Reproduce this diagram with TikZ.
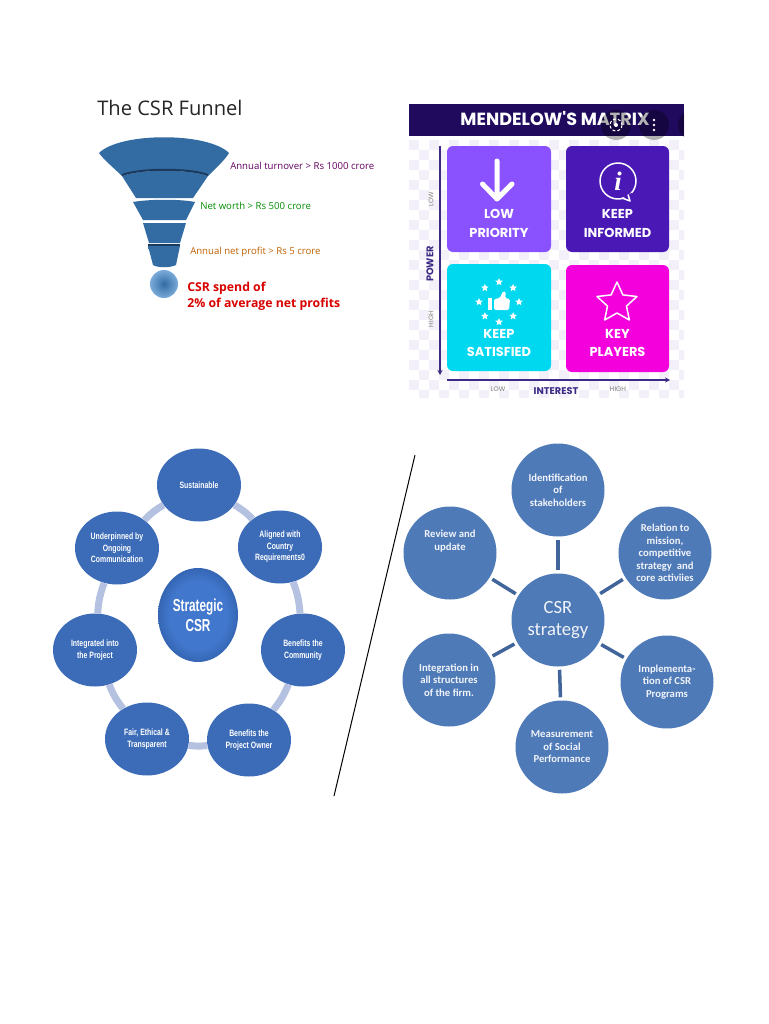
\documentclass[tikz,border=0pt]{standalone}
\usepackage{fontspec}
\setmainfont{Liberation Sans}
\newfontfamily\titlefont{Open Sans}
\newfontfamily\popfont{Poppins}
\newfontfamily\condfont[FakeStretch=0.75]{Liberation Sans}
\newfontfamily\condbig[FakeStretch=0.68]{Liberation Sans}
\newfontfamily\calfont{Carlito}
\newfontfamily\serifi{Liberation Serif}
\usetikzlibrary{shapes.geometric,arrows.meta}
\def\px{0.75pt}
\definecolor{navy}{HTML}{1F0A5E}
\definecolor{axiscol}{HTML}{3D2A85}
\definecolor{chk}{HTML}{F3F0F9}
\definecolor{tileA}{HTML}{8A52FF}
\definecolor{tileB}{HTML}{4A18B4}
\definecolor{tileC}{HTML}{00D8F0}
\definecolor{tileD}{HTML}{F400DC}
\definecolor{leftblue}{HTML}{3C6CB8}
\definecolor{ringcol}{HTML}{B4C1E0}
\definecolor{rightblue}{HTML}{4F7AB8}
\definecolor{spokecol}{HTML}{41659B}
\definecolor{fundark}{HTML}{336CA3}
\definecolor{funlight}{HTML}{7AABDB}
\definecolor{seamcol}{HTML}{1C3A5E}
\definecolor{stratA}{HTML}{4177CC}
\definecolor{stratB}{HTML}{3566B4}
\definecolor{stratC}{HTML}{1E4A86}
\pgfdeclareradialshading{stratball}{\pgfpointorigin}{color(0bp)=(stratA); color(18bp)=(stratA); color(25bp)=(stratB); color(32bp)=(stratC); color(50bp)=(stratC)}
\tikzset{
  band/.style={left color=fundark,middle color=funlight,right color=fundark},
  seam/.style={draw=seamcol,line width=2*\px},
  tile/.style={rounded corners=6*\px},
  tiletext/.style={text=white,font=\popfont\bfseries\fontsize{9.7}{14}\selectfont,align=center,inner sep=0},
  axislab/.style={text=axiscol,font=\popfont\bfseries\fontsize{7.3}{8}\selectfont,inner sep=0},
  scalelab/.style={text=gray,font=\popfont\fontsize{5}{6}\selectfont,inner sep=0},
  axisline/.style={draw=axiscol,line width=1.2*\px,-{Stealth[length=5*\px,width=5*\px]}},
  icon/.style={draw=white,line width=1.5*\px,line join=round},
  tinystar/.style={star,star points=5,star point ratio=2.2,fill=white,inner sep=0,minimum size=8*\px},
  button/.style={circle,fill=black,fill opacity=.3,minimum size=30*\px,inner sep=0},
  leftnode/.style={ellipse,fill=leftblue,minimum width=84*\px,minimum height=73*\px,inner sep=0,align=center,text=white,font=\condfont\bfseries\fontsize{6.9}{8.6}\selectfont},
  ring/.style={draw=ringcol,line width=7*\px},
  rightnode/.style={circle,fill=rightblue,minimum size=93*\px,inner sep=0,align=center,text=white!92!rightblue,font=\calfont\bfseries\fontsize{8}{9.4}\selectfont},
  spoke/.style={draw=spokecol,line width=3.5*\px,shorten <=3*\px,shorten >=3*\px},
  funlabel/.style={anchor=west,inner sep=0,font=\titlefont\fontsize{7.2}{8}\selectfont},
}
\begin{document}
\begin{tikzpicture}[x=0.75pt,y=-0.75pt]
\useasboundingbox (0,0) rectangle (768,1024);
\fill[white] (0,0) rectangle (768,1024);

% ---------- funnel ----------
\node[anchor=west,inner sep=0,font=\titlefont\fontsize{15.1}{17}\selectfont,text=black!85] (funneltitle) at (97,108) {The CSR Funnel};
\shade[band] (99,153) .. controls (120,132) and (208,132) .. (229,153) .. controls (225,160) and (214,170) .. (208,176) .. controls (190,169) and (140,169) .. (122,176) .. controls (116,170) and (104,160) .. (99,153) -- cycle;
\shade[band] (122,176) .. controls (140,169) and (190,169) .. (208,176) -- (193,198) -- (136,198) -- cycle;
\draw[seam] (122,175) .. controls (140,168) and (190,168) .. (208,175);
\shade[band] (133,202) .. controls (150,199) and (180,199) .. (195,202) -- (186,220) -- (143,220) -- cycle;
\shade[band] (143,223) -- (186,223) -- (180,243) -- (149,243) -- cycle;
\shade[band] (148,246) -- (180,246) -- (176,265) .. controls (170,268) and (158,268) .. (153,265) -- cycle;
\draw[seam] (148,244.5) -- (180,244.5);
\shade[inner color=fundark,outer color=funlight] (164,284) circle (14);
\node[funlabel,text=violet!75!black] (turnover) at (230,166) {Annual turnover > Rs 1000 crore};
\node[funlabel,text=green!55!black] (worth) at (200,205.5) {Net worth > Rs 500 crore};
\node[funlabel,text=orange!75!black] (profit) at (190,252) {Annual net profit > Rs 5 crore};
\node[anchor=west,inner sep=0,align=left,text=red!85!black,font=\titlefont\bfseries\fontsize{9.2}{12}\selectfont] (spend) at (187,296) {CSR spend of\\2\% of average net profits};

% ---------- Mendelow's matrix ----------
\begin{scope}
\clip (409,104) rectangle (684,397);
\foreach \cx in {409,429,...,684} \foreach \cy in {140,160,...,390} {
  \fill[chk] (\cx,\cy) rectangle ++(10,10);
  \fill[chk] (\cx+10,\cy+10) rectangle ++(10,10);
}
\fill[navy] (409,104) rectangle (684,136);
\node[text=white,font=\popfont\bfseries\fontsize{13.2}{15}\selectfont,inner sep=0] (mtitle) at (555,119) {MENDELOW'S MATRIX};
\node[button] (btnA) at (616,125) {};
\node[button] (btnB) at (654,125) {};
\node[button] (btnC) at (693,125) {};
\end{scope}
\draw[white,line width=1*\px,dash pattern=on 3*\px off 2*\px] (btnA) circle (6);
\fill[white] (btnA) circle (2);
\foreach \dy in {-5,0,5} \fill[white] (654,125+\dy) circle (1.4);

\fill[tileA,tile] (447,146) rectangle (551,252);
\fill[tileB,tile] (566,146) rectangle (669,252);
\fill[tileC,tile] (447,264) rectangle (551,371);
\fill[tileD,tile] (566,265) rectangle (669,372);
\node[tiletext] (lowp) at (499,223.5) {LOW\\PRIORITY};
\node[tiletext] (keepi) at (617.5,223.5) {KEEP\\INFORMED};
\node[tiletext] (keeps) at (499,343) {KEEP\\SATISFIED};
\node[tiletext] (keyp) at (617.5,343) {KEY\\PLAYERS};

% arrow icon
\draw[white,line width=5*\px,line join=round,line cap=round] (497,161) -- (497,199) (482.5,184) -- (497,199) -- (512,184);
% info icon
\draw[icon] (618,181) circle (18);
\fill[tileB] (622,196) -- (632,193) -- (630,201) -- cycle;
\draw[icon] (622,198) -- (630,201) -- (628,194.5);
\node[text=white,inner sep=0,font=\serifi\bfseries\itshape\fontsize{20}{20}\selectfont] (infoi) at (618,181) {i};
% thumb icon
\foreach \a [count=\n] in {0,45,...,315} \node[tinystar] (star\n) at ({499+20*cos(\a)},{302+20*sin(\a)}) {};
\fill[white] (488,298) rectangle (492,310);
\fill[white,rounded corners=1.5*\px] (494,299) -- (500,298) -- (503,291) -- (506,292) -- (505,298) -- (510,299) -- (509,310) -- (494,310) -- cycle;
% star icon
\node[star,star points=5,star point ratio=2.1,draw=white,line width=1.5*\px,line join=round,inner sep=0,minimum size=42*\px] (bigstar) at (617,303) {};

% axes
\coordinate (vtop) at (440,146); \coordinate (vbot) at (440,375);
\coordinate (hleft) at (447,380); \coordinate (hright) at (670,380);
\draw[axisline] (vtop) -- (vbot);
\draw[axisline] (hleft) -- (hright);
\node[axislab,rotate=90] (power) at (430,264) {POWER};
\node[scalelab,rotate=90] (plow) at (431,199) {LOW};
\node[scalelab,rotate=90] (phigh) at (431,319) {HIGH};
\node[scalelab] (ilow) at (498,389) {LOW};
\node[axislab] (interest) at (556,391) {INTEREST};
\node[scalelab] (ihigh) at (618,389) {HIGH};

% ---------- Strategic CSR ----------
\node[leftnode] (sust) at (199,485) {Sustainable};
\node[leftnode] (align) at (280,547) {Aligned with\\Country\\Requirements0};
\node[leftnode] (comm) at (303,650) {Benefits the\\Community};
\node[leftnode] (owner) at (249,740) {Benefits the\\Project Owner};
\node[leftnode] (fair) at (147,739) {Fair, Ethical \&\\Transparent};
\node[leftnode] (integ) at (95,650) {Integrated into\\the Project};
\node[leftnode] (under) at (117,548) {Underpinned by\\Ongoing\\Communication};
\draw[ring] (sust) to[bend left=8] (align);
\draw[ring] (align) to[bend left=8] (comm);
\draw[ring] (comm) to[bend left=8] (owner);
\draw[ring] (owner) to[bend left=8] (fair);
\draw[ring] (fair) to[bend left=8] (integ);
\draw[ring] (integ) to[bend left=8] (under);
\draw[ring] (under) to[bend left=8] (sust);
\node[ellipse,minimum width=80*\px,minimum height=94*\px,inner sep=0,shading=stratball,align=center,text=white,font=\condbig\bfseries\fontsize{13}{15}\selectfont] (stratcsr) at (198,615) {Strategic\\CSR};

% ---------- divider ----------
\coordinate (divtop) at (415,455);
\coordinate (divbot) at (334,796);
\draw[black,line width=1*\px] (divtop) -- (divbot);

% ---------- CSR strategy ----------
\node[rightnode,font=\calfont\fontsize{14}{17}\selectfont] (csr) at (558,620) {CSR\\strategy};
\node[rightnode] (ident) at (558,490) {Identification\\of\\stakeholders};
\node[rightnode] (relat) at (665,553) {Relation to\\mission,\\competitive\\strategy~ and\\core activiies};
\node[rightnode] (impl) at (667,682) {Implementa-\\tion of CSR\\Programs};
\node[rightnode] (meas) at (562,747) {Measurement\\of Social\\Performance};
\node[rightnode] (integr) at (449,680) {Integration in\\all structures\\of the firm.};
\node[rightnode] (review) at (450,553) {Review and\\update\\~\\~};
\draw[spoke] (csr) -- (ident);
\draw[spoke] (csr) -- (relat);
\draw[spoke] (csr) -- (impl);
\draw[spoke] (csr) -- (meas);
\draw[spoke] (csr) -- (integr);
\draw[spoke] (csr) -- (review);
\end{tikzpicture}
\end{document}
